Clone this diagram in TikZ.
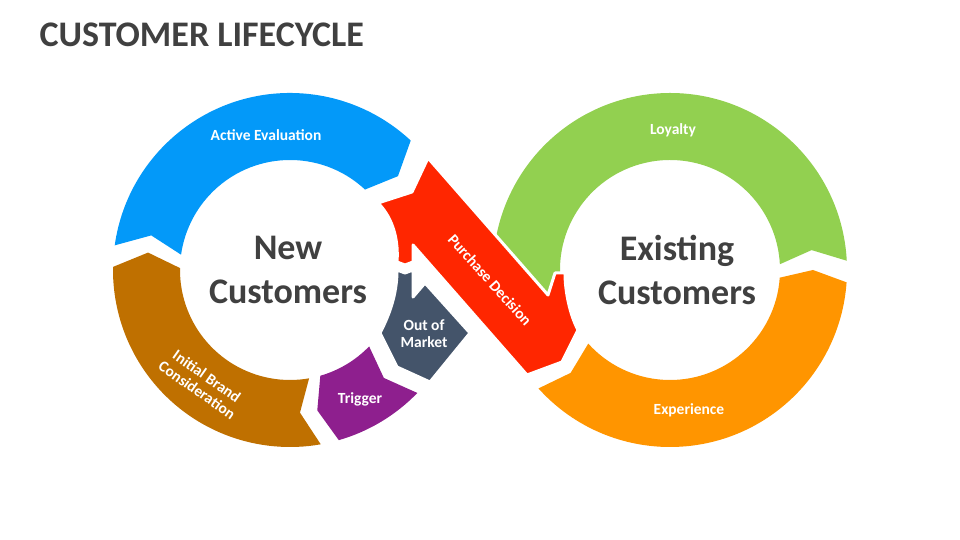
\documentclass[tikz,border=0pt]{standalone}
\usepackage{fontspec}
\setmainfont{Carlito}
\usetikzlibrary{calc}
\definecolor{cBlue}{HTML}{0399F9}
\definecolor{cBrown}{HTML}{BF7000}
\definecolor{cPurple}{HTML}{8E1F8E}
\definecolor{cSlate}{HTML}{44546A}
\definecolor{cRed}{HTML}{FF2600}
\definecolor{cGreen}{HTML}{92D050}
\definecolor{cOrange}{HTML}{FF9500}
\definecolor{cText}{HTML}{404040}
% ring piece: centre, start (tail), end (head), chevron offset, colour
\newcommand{\ringpiece}[5]{
  \fill[#5](#1)++(#2:177)arc[start angle=#2,end angle=#3,radius=177]
    --($(#1)+(#3+#4:143)$)--($(#1)+(#3:110)$)
    arc[start angle=#3,end angle=#2,radius=110]
    --($(#1)+(#2+#4:143)$)--cycle;
}
\begin{document}
\begin{tikzpicture}[x=1pt,y=1pt,
    lbl/.style={text=white,font=\fontsize{15.5}{17}\selectfont\bfseries,align=center},
    big/.style={text=cText,font=\fontsize{36}{44}\selectfont\bfseries,align=center},
    cut/.style={draw=white,line width=3pt,line join=round}]
      \useasboundingbox(0,0)rectangle(960,540);
      \coordinate(L)at(290,270);\coordinate(R)at(670,270);
      \ringpiece{L}{280}{179}{-6}{cBrown}
      \ringpiece{L}{172}{47}{-6}{cBlue}
      \ringpiece{L}{316}{286}{-5}{cPurple}
      \ringpiece{R}{3}{190}{5}{cGreen}
      \ringpiece{R}{222}{356}{4}{cOrange}
      \begin{scope}[shift={(0,540)},yscale=-1]
        \filldraw[cut,fill=cRed](378,203)--(412,192)--(428,158)--(548,295)--(555,273)--(565,273)
          ..controls(565,292)and(570,315)..(578,330)--(562,362)--(527,375)--(413,245)--(413,262)
          --(405,265)--(397,262)..controls(399,235)and(390,215)..(378,203)--cycle;
        \filldraw[cut,fill=cSlate](397,270)--(405,273)--(413,270)--(413,297)--(425,283)--(470,333)
          --(430,382)--(397,367)--(380,333)..controls(392,310)and(397,290)..(397,270)--cycle;
      \end{scope}
      \node[text=cText,font=\fontsize{36}{38}\selectfont\bfseries,anchor=west](title)at(36,505){CUSTOMER LIFECYCLE};
      \node[big](new)at(288,270){New\\Customers};
      \node[big](old)at(677,270){Existing\\Customers};
      \foreach \N/\X/\Y/\R/\T in{ae/266/405/0/Active Evaluation, loy/673/410/0/Loyalty,
          exp/689/130/0/Experience, trg/360/141/0/Trigger, oom/424/206/0/Out of\\Market,
          ibc/202/157/-35/Initial Brand\\Consideration, pd/490/260/-48/Purchase Decision}{
        \node[lbl,rotate=\R](\N)at(\X,\Y){\T};
      }
    \end{tikzpicture}
\end{document}
